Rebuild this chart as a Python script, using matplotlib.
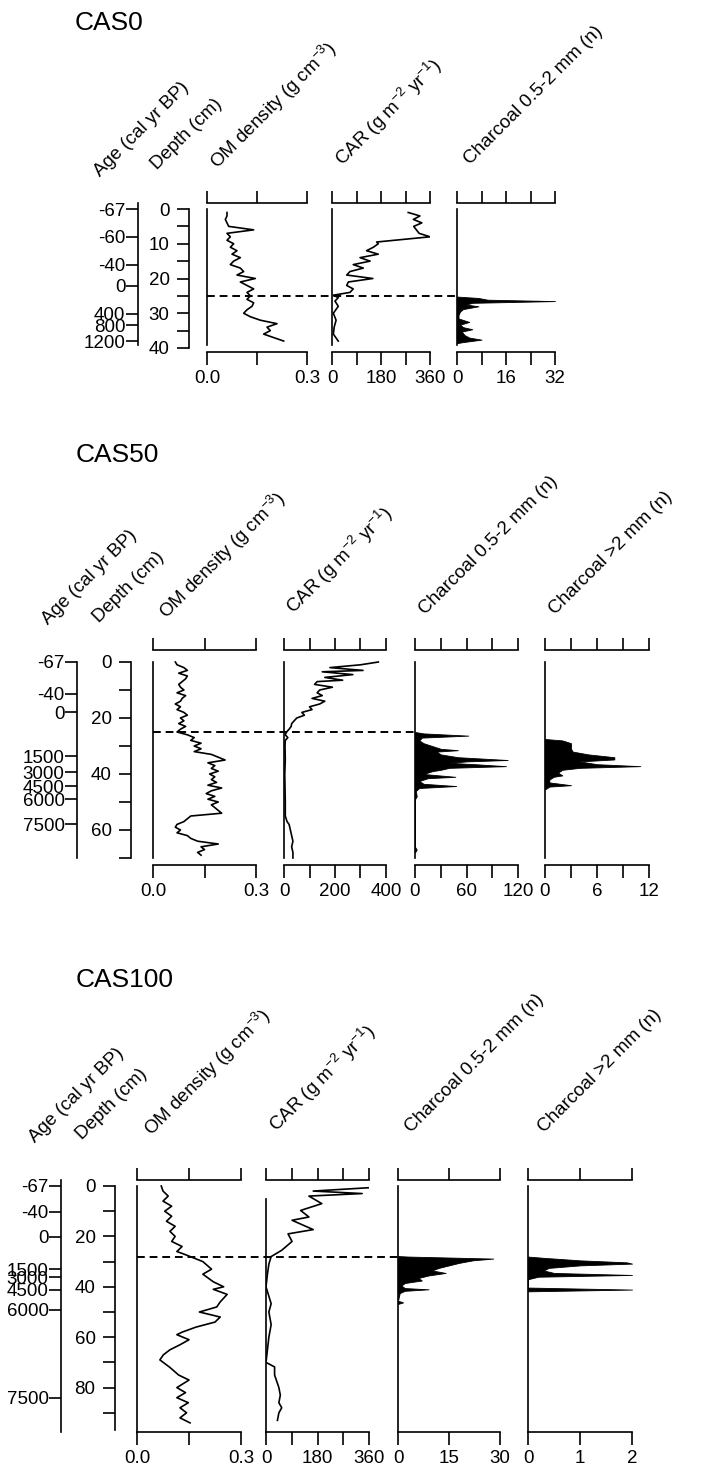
import matplotlib
matplotlib.use("Agg")
import matplotlib.pyplot as plt
from matplotlib.ticker import MultipleLocator, FixedLocator
from matplotlib.lines import Line2D
import numpy as np

plt.rcParams['font.family'] = ['Liberation Sans', 'DejaVu Sans']
plt.rcParams['mathtext.fontset'] = 'custom'
plt.rcParams['mathtext.rm'] = 'Liberation Sans'
plt.rcParams['mathtext.it'] = 'Liberation Sans'

W, H = 712, 1469

# ---------------- CAS0 data ----------------
cas0_age_ticks = [-67, -60, -40, 0, 400, 800, 1200]
cas0_age_depth = [0, 8, 16.1, 22.1, 30.1, 33.5, 38.1]
cas0_om_depth = list(range(1, 39))
cas0_om = [.06, .06, .055, .06, .065, .14, .06, .07, .06, .08, .07, .09, .075, .1, .08, .07, .1,
           .11, .09, .145, .1, .12, .14, .12, .13, .12, .14, .135, .12, .11, .13, .16, .21, .18,
           .19, .17, .2, .23]
cas0_car_depth = [1, 2, 3, 4, 5, 6, 7, 8, 9.5, 10, 11, 12, 13, 14, 15, 16, 17, 18, 19, 20, 21,
                  22, 23, 24, 24.8, 25.5, 26.5, 28, 30, 32, 34, 36, 38]
cas0_car = [280, 323, 299, 330, 300, 310, 320, 360, 164, 170, 152, 127, 170, 103, 140, 78, 115,
            66, 54, 150, 60, 54, 78, 66, 5, 23, 11, 23, 5, 15, 8, 5, 23]
cas0_ch_depth = [25.2, 25.6, 26.1, 26.5, 27.0, 27.5, 28.0, 28.8, 29.5, 30.5, 31.5, 32.5, 33.3,
                 34.0, 34.6, 35.3, 36.3, 37.0, 37.6, 38.3, 38.6]
cas0_ch = [0, 7, 10, 32, 5, 3, 7, 2, 1, 0.5, 0.5, 4, 1, 2, 5, 1.5, 2.5, 4, 8, 2, 0]

# ---------------- CAS50 data ----------------
cas50_age_ticks = [-67, -40, 0, 1500, 3000, 4500, 6000, 7500]
cas50_age_depth = [0, 11.4, 17.9, 33.6, 39.3, 44.3, 49, 57.9]
cas50_om_depth = list(range(0, 70))
cas50_om = [.065, .07, .09, .1, .075, .1, .095, .085, .075, .08, .09, .07, .095, .085, .08, .065,
            .08, .07, .09, .1, .08, .09, .075, .095, .08, .07, .1, .12, .11, .14, .12, .14, .12,
            .17, .19, .21, .16, .18, .17, .19, .165, .18, .17, .185, .16, .2, .17, .155, .18, .16,
            .19, .17, .18, .19, .2, .11, .1, .09, .07, .065, .08, .07, .1, .11, .13, .19, .14,
            .15, .13, .14]
cas50_car_depth = [0, 1, 2, 3, 3.5, 4.5, 5.5, 6.5, 7, 8, 9, 10, 11, 12, 13, 14, 15, 16, 17, 18,
                   19, 20, 21, 22, 23, 24, 25, 26, 27, 28, 30, 35, 40, 45, 50, 55, 57, 58, 60, 62,
                   64, 66, 68, 70]
cas50_car = [370, 300, 180, 310, 150, 270, 160, 230, 130, 120, 190, 140, 130, 150, 110, 160, 140,
             100, 110, 70, 80, 50, 40, 30, 28, 20, 10, 5, 15, 5, 4, 5, 3, 4, 5, 5, 12, 20, 25, 30,
             35, 30, 35, 35]
cas50_ch1_depth = [25, 25.5, 26.3, 27, 28, 29, 30, 31, 31.5, 32, 33, 34, 35, 35.5, 36, 36.5, 37.2,
                   37.8, 38.5, 39, 40, 41, 41.5, 42.5, 43.5, 44.3, 45, 46, 48, 49, 66, 67, 68]
cas50_ch1 = [0, 10, 62, 8, 5, 10, 20, 30, 50, 25, 30, 50, 108, 60, 40, 70, 106, 40, 30, 20, 10,
             47, 15, 5, 10, 48, 5, 1, 2, 0, 0, 2, 0]
cas50_ch2_depth = [27.5, 28, 29, 30, 31, 32, 33, 34, 34.8, 35.5, 36.5, 37.2, 37.8, 38.5, 39.5,
                   40.5, 41, 42, 43, 44, 44.5, 45.5]
cas50_ch2 = [0, 2, 3, 3, 3, 3.2, 5, 8, 8, 4, 6, 11, 4, 2, 1.5, 2, 1, 0.5, 0.5, 3, 0.5, 0]

# ---------------- CAS100 data ----------------
cas100_age_ticks = [-67, -40, 0, 1500, 3000, 4500, 6000, 7500]
cas100_age_depth = [0, 10.3, 20.2, 33, 36.3, 41.1, 49.2, 84.1]
cas100_om_depth = [0, 2, 4, 6, 8, 10, 12, 14, 16, 18, 20, 22, 24, 26, 27, 30, 33, 35, 38, 40, 41,
                   43, 46, 48, 50, 52, 54, 56, 58, 59, 61, 63, 65, 67, 69, 72, 75, 77, 80, 82, 84,
                   86, 88, 90, 92, 94]
cas100_om = [.07, .075, .09, .075, .1, .08, .1, .085, .11, .095, .11, .1, .13, .115, .135, .19,
             .215, .19, .22, .25, .22, .26, .24, .23, .18, .24, .225, .17, .13, .115, .15, .124,
             .095, .076, .066, .095, .12, .15, .115, .14, .115, .148, .124, .143, .124, .153]
cas100_car_depth = [0.7, 2, 3, 4, 7, 9.7, 12.3, 13.6, 17.3, 19, 22, 25.5, 28, 31, 35, 40, 46.7,
                    50, 55, 60, 65, 70, 71.8, 75, 80, 83, 86, 88, 90, 93]
cas100_car = [357, 165, 336, 150, 195, 121, 150, 91, 165, 77, 91, 55, 18, 10, 5, 0, 18, 10, 18,
              10, 5, 0, 30, 30, 45, 50, 45, 55, 45, 40]
cas100_ch1_depth = [27.8, 28, 28.8, 29.5, 30.5, 31.5, 32.5, 33.5, 34.5, 35.5, 36.5, 37.5, 38.5,
                    39.5, 40.5, 41, 41.6, 42.5, 45.5, 46.2, 46.8]
cas100_ch1 = [0, 3, 28, 22, 18, 15, 12, 10, 14, 9, 6, 7, 2, 1, 2, 9, 2, 0.5, 0, 1.5, 0]
cas100_ch2_depth = [28, 28.5, 29.5, 30.3, 30.8, 31.5, 32.5, 33.5, 34.5, 35.3, 36, 37, 40.3, 41.1,
                    41.8]
cas100_ch2 = [0, 0.3, 1, 1.9, 2, 1.0, 0.4, 0.3, 0.5, 2, 0.2, 0, 0, 2, 0]

lbl_om = r"OM density (g cm$^{\mathregular{-3}}$)"
lbl_car = r"CAR (g m$^{\mathregular{-2}}$ yr$^{\mathregular{-1}}$)"
lbl_ch1 = "Charcoal 0.5-2 mm (n)"
lbl_ch2 = "Charcoal >2 mm (n)"

TICK_FS = 13.5
LAB_FS = 13.5
LW = 1.2

fig = plt.figure(figsize=(W / 100, H / 100), dpi=100)


def rect(x0, x1, ytop, ybot):
    return [x0 / W, 1 - ybot / H, (x1 - x0) / W, (ybot - ytop) / H]


def group(g):
    y0, s, dmax = g['y0'], g['scale'], g['dmax']
    ytop, ybot = g['ytop'], g['ybot']
    dtop = (ytop - y0) / s
    dbot = (ybot - y0) / s

    # age axis
    ax = fig.add_axes(rect(g['age_x'], g['age_x'] + 10, ytop, ybot))
    ax.set_ylim(dbot, dtop)
    for sp in ['top', 'right', 'bottom']:
        ax.spines[sp].set_visible(False)
    ax.spines['left'].set_linewidth(LW)
    ax.spines['left'].set_bounds(g.get('age_top', 0), g['age_bot'])
    ax.set_xticks([])
    ax.yaxis.set_major_locator(FixedLocator(g['age_depth']))
    ax.set_yticklabels([str(a) for a in g['age_ticks']])
    ax.tick_params(axis='y', length=9, width=LW, labelsize=TICK_FS, pad=0)
    ax.patch.set_visible(False)

    # depth axis
    ax = fig.add_axes(rect(g['depth_x'], g['depth_x'] + 10, ytop, ybot))
    ax.set_ylim(dbot, dtop)
    for sp in ['top', 'right', 'bottom']:
        ax.spines[sp].set_visible(False)
    ax.spines['left'].set_linewidth(LW)
    ax.spines['left'].set_bounds(0, dmax)
    ax.set_xticks([])
    ax.yaxis.set_major_locator(MultipleLocator(g['dlab']))
    ax.yaxis.set_minor_locator(MultipleLocator(g['dlab'] / 2))
    ax.set_ylim(dbot, dtop)
    ax.tick_params(axis='y', which='both', length=9, width=LW, labelsize=TICK_FS, pad=5)
    ax.patch.set_visible(False)

    for p in g['panels']:
        ax = fig.add_axes(rect(p['x0'], p['x1'], ytop, ybot))
        if p['kind'] == 'line':
            ax.plot(p['v'], p['d'], color='black', lw=LW)
        else:
            ax.fill_betweenx(p['d'], 0, p['v'], color='black', lw=0.6, edgecolor='black')
        ax.set_xlim(0, p['max'])
        ax.set_ylim(dbot, dtop)
        ax.spines['right'].set_visible(False)
        for sp in ['top', 'bottom', 'left']:
            ax.spines[sp].set_linewidth(LW)
        ax.spines['left'].set_bounds(p.get('ltop', 0), g['lbot'])
        ax.xaxis.set_ticks_position('both')
        ticks = np.arange(0, p['max'] + 1e-9, p['step'])
        ax.set_xticks(ticks)
        ax.set_xticklabels([p['fmt'](t) if t in p['labels'] else '' for t in ticks])
        ax.tick_params(axis='x', which='both', direction='out', length=9, width=LW,
                       labelsize=TICK_FS, pad=4, top=True, labeltop=False)
        ax.set_yticks([])
        ax.patch.set_visible(False)

    # dashed boundary
    yd = 1 - (y0 + g['dash'] * s) / H
    fig.add_artist(Line2D([g['dash_x0'] / W, g['dash_x1'] / W], [yd, yd], color='black',
                          lw=1.4, ls=(0, (4, 2.5)), transform=fig.transFigure))

    fig.text(g['title'][0] / W, 1 - g['title'][1] / H, g['name'], fontsize=19,
             ha='left', va='center')
    for (x, y), t in zip(g['lab_pos'], g['labels']):
        fig.text(x / W, 1 - y / H, t, fontsize=LAB_FS, rotation=45, rotation_mode='anchor',
                 ha='left', va='baseline')


f1 = lambda t: f"{t:.1f}"
fi = lambda t: f"{int(round(t))}"

groups = [
    dict(name='CAS0', title=(75, 23), y0=209, scale=3.475, dmax=40, ytop=203, ybot=352,
         lbot=39, age_x=138, age_top=-1.7, age_bot=39, age_ticks=cas0_age_ticks,
         age_depth=cas0_age_depth, depth_x=189, dlab=10, dash=25, dash_x0=207, dash_x1=457,
         lab_pos=[(100, 177), (157, 170), (218, 170), (343, 167), (470, 165)],
         labels=["Age (cal yr BP)", "Depth (cm)", lbl_om, lbl_car, lbl_ch1],
         panels=[
             dict(kind='line', x0=207, x1=307, max=0.3, step=0.15, labels=[0, 0.3], fmt=f1,
                  d=cas0_om_depth, v=cas0_om),
             dict(kind='line', x0=332, x1=430, max=360, step=90, labels=[0, 180, 360], fmt=fi,
                  d=cas0_car_depth, v=cas0_car),
             dict(kind='fill', x0=457, x1=555, max=32, step=8, labels=[0, 16, 32], fmt=fi,
                  d=cas0_ch_depth, v=cas0_ch),
         ]),
    dict(name='CAS50', title=(76, 455), y0=662, scale=2.8, dmax=70, ytop=650, ybot=865,
         lbot=70, age_x=77, age_bot=70, age_ticks=cas50_age_ticks, age_depth=cas50_age_depth,
         depth_x=131, dlab=20, dash=25, dash_x0=153, dash_x1=415,
         lab_pos=[(48, 625), (99, 623), (167, 620), (294, 615), (425, 615), (555, 615)],
         labels=["Age (cal yr BP)", "Depth (cm)", lbl_om, lbl_car, lbl_ch1, lbl_ch2],
         panels=[
             dict(kind='line', x0=153, x1=256, max=0.3, step=0.15, labels=[0, 0.3], fmt=f1,
                  d=cas50_om_depth, v=cas50_om),
             dict(kind='line', x0=284, x1=386, max=400, step=100, labels=[0, 200, 400], fmt=fi,
                  d=cas50_car_depth, v=cas50_car),
             dict(kind='fill', x0=415, x1=518, max=120, step=30, labels=[0, 60, 120], fmt=fi,
                  d=cas50_ch1_depth, v=cas50_ch1),
             dict(kind='fill', x0=545, x1=649, max=12, step=3, labels=[0, 6, 12], fmt=fi,
                  d=cas50_ch2_depth, v=cas50_ch2),
         ]),
    dict(name='CAS100', title=(76, 980), y0=1186, scale=2.52, dmax=97, ytop=1180, ybot=1432,
         lbot=97.6, age_x=61, age_top=-2.4, age_bot=97.6, age_ticks=cas100_age_ticks,
         age_depth=cas100_age_depth, depth_x=115, dlab=20, dash=28, dash_x0=137, dash_x1=398,
         lab_pos=[(35, 1143), (82, 1140), (152, 1137), (277, 1133), (411, 1133), (544, 1133)],
         labels=["Age (cal yr BP)", "Depth (cm)", lbl_om, lbl_car, lbl_ch1, lbl_ch2],
         panels=[
             dict(kind='line', x0=137, x1=241, max=0.3, step=0.15, labels=[0, 0.3], fmt=f1,
                  d=cas100_om_depth, v=cas100_om),
             dict(kind='line', x0=266, x1=369, max=360, step=90, labels=[0, 180, 360], fmt=fi,
                  ltop=5, d=cas100_car_depth, v=cas100_car),
             dict(kind='fill', x0=398, x1=500, max=30, step=15, labels=[0, 15, 30], fmt=fi,
                  d=cas100_ch1_depth, v=cas100_ch1),
             dict(kind='fill', x0=528, x1=632, max=2, step=1, labels=[0, 1, 2], fmt=fi,
                  d=cas100_ch2_depth, v=cas100_ch2),
         ]),
]

for g in groups:
    group(g)

fig.savefig("out.png", dpi=100)
